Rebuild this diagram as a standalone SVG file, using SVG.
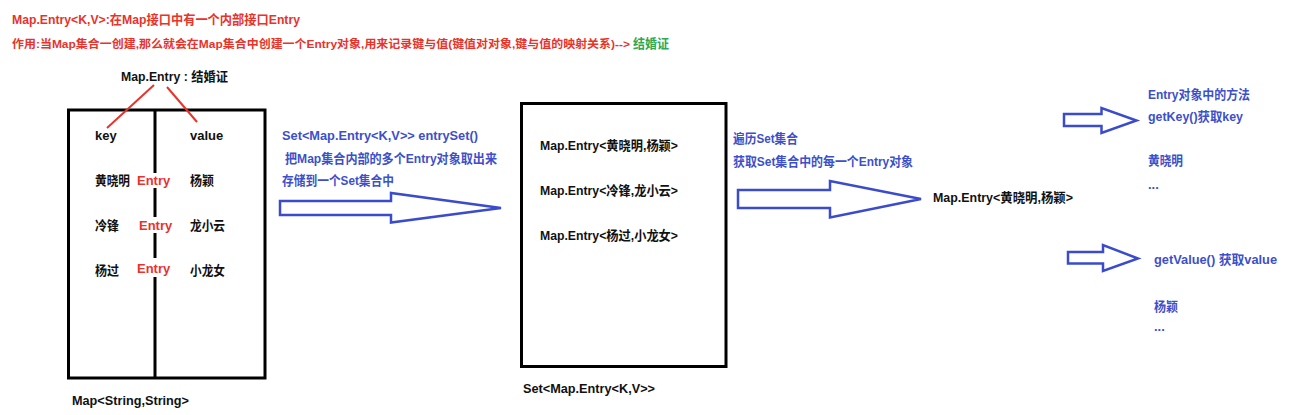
<svg xmlns="http://www.w3.org/2000/svg" width="1292" height="415" viewBox="0 0 1292 415">
<style>
text{font-family:'Liberation Sans','Noto Sans CJK SC',sans-serif;font-weight:bold;font-size:13px}
.red{fill:#e8332b}
.green{fill:#2fa84f}
.blue{fill:#3d4fc9}
.blk{fill:#111}
.box{fill:#fff;stroke:#000;stroke-width:3}
.arrow{fill:#fff;stroke:#3a4ccc;stroke-width:2.5;stroke-linejoin:miter}
.redline{stroke:#e8332b;stroke-width:2;fill:none}
</style>
<rect width="1292" height="415" fill="#fff"/>
<g id="header">
<text x="12" y="24" class="red" textLength="288" lengthAdjust="spacingAndGlyphs">Map.Entry&lt;K,V&gt;:在Map接口中有一个内部接口Entry</text>
<text x="12" y="48" class="red" style="font-size:11.8px" textLength="618" lengthAdjust="spacingAndGlyphs">作用:当Map集合一创建,那么就会在Map集合中创建一个Entry对象,用来记录键与值(键值对对象,键与值的映射关系)--&gt;</text>
<text x="633" y="48" class="green" textLength="36" lengthAdjust="spacingAndGlyphs">结婚证</text>
</g>
<g id="map-node">
<rect class="box" x="68.5" y="110" width="196.5" height="268"/>
<path d="M155 110V173M155 188V217M155 233V258M155 277V378" stroke="#000" stroke-width="3" fill="none"/>
<text x="95" y="140" class="blk">key</text>
<text x="190" y="140" class="blk">value</text>
<text x="95" y="185" class="blk" textLength="35" lengthAdjust="spacingAndGlyphs">黄晓明</text>
<text x="190" y="185" class="blk" textLength="24" lengthAdjust="spacingAndGlyphs">杨颖</text>
<text x="95" y="230" class="blk" textLength="24" lengthAdjust="spacingAndGlyphs">冷锋</text>
<text x="190" y="230" class="blk" textLength="35" lengthAdjust="spacingAndGlyphs">龙小云</text>
<text x="95" y="275" class="blk" textLength="24" lengthAdjust="spacingAndGlyphs">杨过</text>
<text x="190" y="275" class="blk" textLength="35" lengthAdjust="spacingAndGlyphs">小龙女</text>
<text x="137" y="185" class="red">Entry</text>
<text x="139" y="230" class="red">Entry</text>
<text x="137" y="273" class="red">Entry</text>
<text x="72" y="405" class="blk" textLength="117" lengthAdjust="spacingAndGlyphs">Map&lt;String,String&gt;</text>
</g>
<g id="map-entry-label">
<text x="121" y="81" class="blk" textLength="107" lengthAdjust="spacingAndGlyphs">Map.Entry : 结婚证</text>
</g>
<g id="set-node">
<rect class="box" x="521.5" y="103.5" width="204.5" height="263"/>
<text x="540" y="150" class="blk" textLength="138" lengthAdjust="spacingAndGlyphs">Map.Entry&lt;黄晓明,杨颖&gt;</text>
<text x="540" y="195" class="blk" textLength="138" lengthAdjust="spacingAndGlyphs">Map.Entry&lt;冷锋,龙小云&gt;</text>
<text x="540" y="240" class="blk" textLength="138" lengthAdjust="spacingAndGlyphs">Map.Entry&lt;杨过,小龙女&gt;</text>
<text x="523" y="393" class="blk" textLength="132" lengthAdjust="spacingAndGlyphs">Set&lt;Map.Entry&lt;K,V&gt;&gt;</text>
</g>
<g id="entry-node">
<text x="933" y="202" class="blk" textLength="140" lengthAdjust="spacingAndGlyphs">Map.Entry&lt;黄晓明,杨颖&gt;</text>
</g>
<g id="methods-key">
<text x="1148" y="99" class="blue" textLength="102" lengthAdjust="spacingAndGlyphs">Entry对象中的方法</text>
<text x="1148" y="121" class="blue" textLength="95" lengthAdjust="spacingAndGlyphs">getKey()获取key</text>
<text x="1148" y="165" class="blue" textLength="35" lengthAdjust="spacingAndGlyphs">黄晓明</text>
<text x="1148" y="189" class="blue">...</text>
</g>
<g id="methods-value">
<text x="1154" y="264" class="blue" textLength="123" lengthAdjust="spacingAndGlyphs">getValue() 获取value</text>
<text x="1154" y="311" class="blue" textLength="24" lengthAdjust="spacingAndGlyphs">杨颖</text>
<text x="1154" y="331" class="blue">...</text>
</g>
<g id="connectors">
<line class="redline" x1="154" y1="85" x2="107" y2="128"/>
<line class="redline" x1="167" y1="87" x2="197" y2="122"/>
<polygon class="arrow" points="280,201 391,201 391,193 501,208 391,222.5 391,215 280,215"/>
<text x="282" y="140" class="blue" textLength="196" lengthAdjust="spacingAndGlyphs">Set&lt;Map.Entry&lt;K,V&gt;&gt; entrySet()</text>
<text x="285" y="163" class="blue" textLength="212" lengthAdjust="spacingAndGlyphs">把Map集合内部的多个Entry对象取出来</text>
<text x="282" y="185" class="blue" textLength="112" lengthAdjust="spacingAndGlyphs">存储到一个Set集合中</text>
<polygon class="arrow" points="738,190 830,190 830,181 921,199 830,217.5 830,208 738,208"/>
<text x="733" y="143" class="blue" textLength="65" lengthAdjust="spacingAndGlyphs">遍历Set集合</text>
<text x="733" y="166" class="blue" textLength="180" lengthAdjust="spacingAndGlyphs">获取Set集合中的每一个Entry对象</text>
<polygon class="arrow" points="1064,114 1101.5,114 1101.5,108 1136.5,120.5 1101.5,133 1101.5,126 1064,126"/>
<polygon class="arrow" points="1068,252 1103,252 1103,245 1138,258.5 1103,271 1103,263.5 1068,263.5"/>
</g>
</svg>
